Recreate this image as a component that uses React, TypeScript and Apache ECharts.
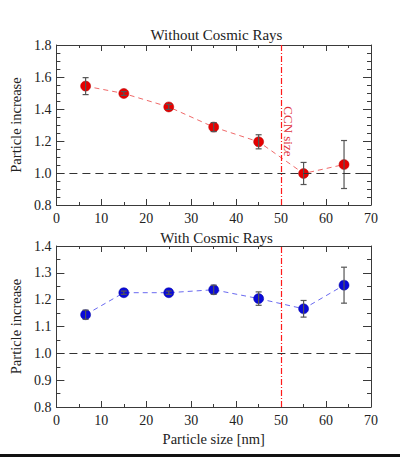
import React, { useEffect, useRef } from "react";
import * as echarts from "echarts";

const sizes = [6.5, 15, 25, 35, 45, 55, 64];
const withoutCR = [1.543, 1.497, 1.413, 1.287, 1.195, 0.997, 1.053];
const withoutErr = [0.053, 0.012, 0.016, 0.028, 0.044, 0.069, 0.15];
const withCR = [1.144, 1.226, 1.226, 1.237, 1.204, 1.166, 1.254];
const withErr = [0.017, 0.006, 0.006, 0.017, 0.025, 0.031, 0.067];
const xTicks = [0, 10, 20, 30, 40, 50, 60, 70];
const ccnSize = 50;
const baseline = 1.0;

const FONT = "Liberation Serif";
const AXIS_COLOR = "#3a3a3a";
const TEXT_COLOR = "#222";

function errData(vals: number[], errs: number[]) {
  return sizes.map((x, i) => [x, vals[i] - errs[i], vals[i] + errs[i]]);
}

function errRender(params: any, api: any) {
  const x = api.value(0);
  const lo = api.coord([x, api.value(1)]);
  const hi = api.coord([x, api.value(2)]);
  const cap = 3;
  const style = { stroke: "#555", lineWidth: 1.2 };
  return {
    type: "group",
    children: [
      { type: "line", shape: { x1: lo[0], y1: lo[1], x2: hi[0], y2: hi[1] }, style },
      { type: "line", shape: { x1: lo[0] - cap, y1: lo[1], x2: lo[0] + cap, y2: lo[1] }, style },
      { type: "line", shape: { x1: hi[0] - cap, y1: hi[1], x2: hi[0] + cap, y2: hi[1] }, style },
    ],
  };
}

function xAxes(gridIndex: number, showName: boolean) {
  const common = {
    type: "value",
    gridIndex,
    min: 0,
    max: 70,
    interval: 10,
    splitLine: { show: false },
    axisLine: { show: true, onZero: false, lineStyle: { color: AXIS_COLOR, width: 1 } },
    axisTick: { show: true, inside: true, length: 6, lineStyle: { color: AXIS_COLOR } },
    minorTick: { show: true, splitNumber: 2, length: 3, lineStyle: { color: AXIS_COLOR } },
  };
  return [
    {
      ...common,
      position: "bottom",
      axisLabel: {
        show: true,
        margin: 6,
        fontFamily: FONT,
        fontSize: 14,
        color: TEXT_COLOR,
        customValues: xTicks,
      },
      name: showName ? "Particle size [nm]" : "",
      nameLocation: "middle",
      nameGap: 24,
      nameTextStyle: { fontFamily: FONT, fontSize: 14.5, color: TEXT_COLOR },
    },
    { ...common, position: "top", axisLabel: { show: false } },
  ];
}

function yAxes(gridIndex: number, min: number, max: number, interval: number, minorSplit: number) {
  const common = {
    type: "value",
    gridIndex,
    min,
    max,
    interval,
    splitLine: { show: false },
    axisLine: { show: true, onZero: false, lineStyle: { color: AXIS_COLOR, width: 1 } },
    axisTick: { show: true, inside: true, length: 8, lineStyle: { color: AXIS_COLOR } },
    minorTick: { show: true, splitNumber: minorSplit, length: 4, lineStyle: { color: AXIS_COLOR } },
  };
  return [
    {
      ...common,
      position: "left",
      axisLabel: {
        show: true,
        margin: 5,
        fontFamily: FONT,
        fontSize: 14,
        color: TEXT_COLOR,
        formatter: (v: number) => v.toFixed(1),
      },
      name: "Particle increase",
      nameLocation: "middle",
      nameGap: 30,
      nameTextStyle: { fontFamily: FONT, fontSize: 14.5, color: TEXT_COLOR },
    },
    { ...common, position: "right", axisLabel: { show: false } },
  ];
}

const baselineMark = {
  silent: true,
  symbol: "none",
  label: { show: false },
  lineStyle: { color: "#333333", type: [8, 5], width: 1 },
  data: [{ yAxis: baseline }],
};

const ccnMark = {
  silent: true,
  symbol: "none",
  label: { show: false },
  lineStyle: { color: "#ff1a1a", type: [6, 2, 1, 2], width: 1.2, opacity: 1 },
  data: [{ xAxis: ccnSize }],
};

export default function App() {
  const ref = useRef<HTMLDivElement>(null);
  useEffect(() => {
    if (!ref.current) return;
    const chart = echarts.init(ref.current, null, { renderer: "svg" });
    const option: any = {
      animation: false,
      backgroundColor: "#ffffff",
      textStyle: { fontFamily: FONT, color: TEXT_COLOR },
      title: [
        {
          text: "Without Cosmic Rays",
          left: 211.5,
          textAlign: "center",
          top: 22,
          textStyle: { fontFamily: FONT, fontSize: 15, fontWeight: "normal", color: TEXT_COLOR },
        },
        {
          text: "With Cosmic Rays",
          left: 211.5,
          textAlign: "center",
          top: 225,
          textStyle: { fontFamily: FONT, fontSize: 15, fontWeight: "normal", color: TEXT_COLOR },
        },
      ],
      grid: [
        { left: 52, right: 29, top: 45, height: 160 },
        { left: 52, right: 29, top: 246, height: 161 },
      ],
      xAxis: [...xAxes(0, false), ...xAxes(1, true)],
      yAxis: [...yAxes(0, 0.8, 1.8, 0.2, 4), ...yAxes(1, 0.8, 1.4, 0.1, 2)],
      series: [
        {
          type: "line",
          xAxisIndex: 0,
          yAxisIndex: 0,
          data: sizes.map((x, i) => [x, withoutCR[i]]),
          symbol: "circle",
          symbolSize: 10,
          itemStyle: { color: "#e60000", borderColor: "#b00000", borderWidth: 0.5 },
          lineStyle: { color: "#f06a6a", width: 1, type: [5, 4] },
          markLine: baselineMark,
          z: 3,
        },
        {
          type: "custom",
          xAxisIndex: 0,
          yAxisIndex: 0,
          data: errData(withoutCR, withoutErr),
          renderItem: errRender,
          encode: { x: 0, y: [1, 2] },
          markLine: ccnMark,
          z: 4,
        },
        {
          type: "line",
          xAxisIndex: 2,
          yAxisIndex: 2,
          data: sizes.map((x, i) => [x, withCR[i]]),
          symbol: "circle",
          symbolSize: 10,
          itemStyle: { color: "#0a0ad8", borderColor: "#0000a0", borderWidth: 0.5 },
          lineStyle: { color: "#6a6af0", width: 1, type: [5, 4] },
          markLine: baselineMark,
          z: 3,
        },
        {
          type: "custom",
          xAxisIndex: 2,
          yAxisIndex: 2,
          data: errData(withCR, withErr),
          renderItem: errRender,
          encode: { x: 0, y: [1, 2] },
          markLine: ccnMark,
          z: 4,
        },
      ],
    };
    chart.setOption(option);
    const p = chart.convertToPixel({ xAxisIndex: 0, yAxisIndex: 0 }, [ccnSize, 1.26]);
    chart.setOption({
      graphic: [
        {
          type: "text",
          x: p[0] + 7,
          y: p[1],
          rotation: -Math.PI / 2,
          style: {
            text: "CCN size",
            fontFamily: FONT,
            fontSize: 13,
            fill: "#e0303a",
            align: "center",
            verticalAlign: "middle",
          },
        },
        {
          type: "rect",
          shape: { x: 0, y: 454, width: 400, height: 3 },
          style: { fill: "#111" },
        },
      ],
    });
    return () => chart.dispose();
  }, []);
  return (
    <div
      ref={ref}
      style={{ position: "fixed", left: 0, top: 0, width: 400, height: 457 }}
    />
  );
}
